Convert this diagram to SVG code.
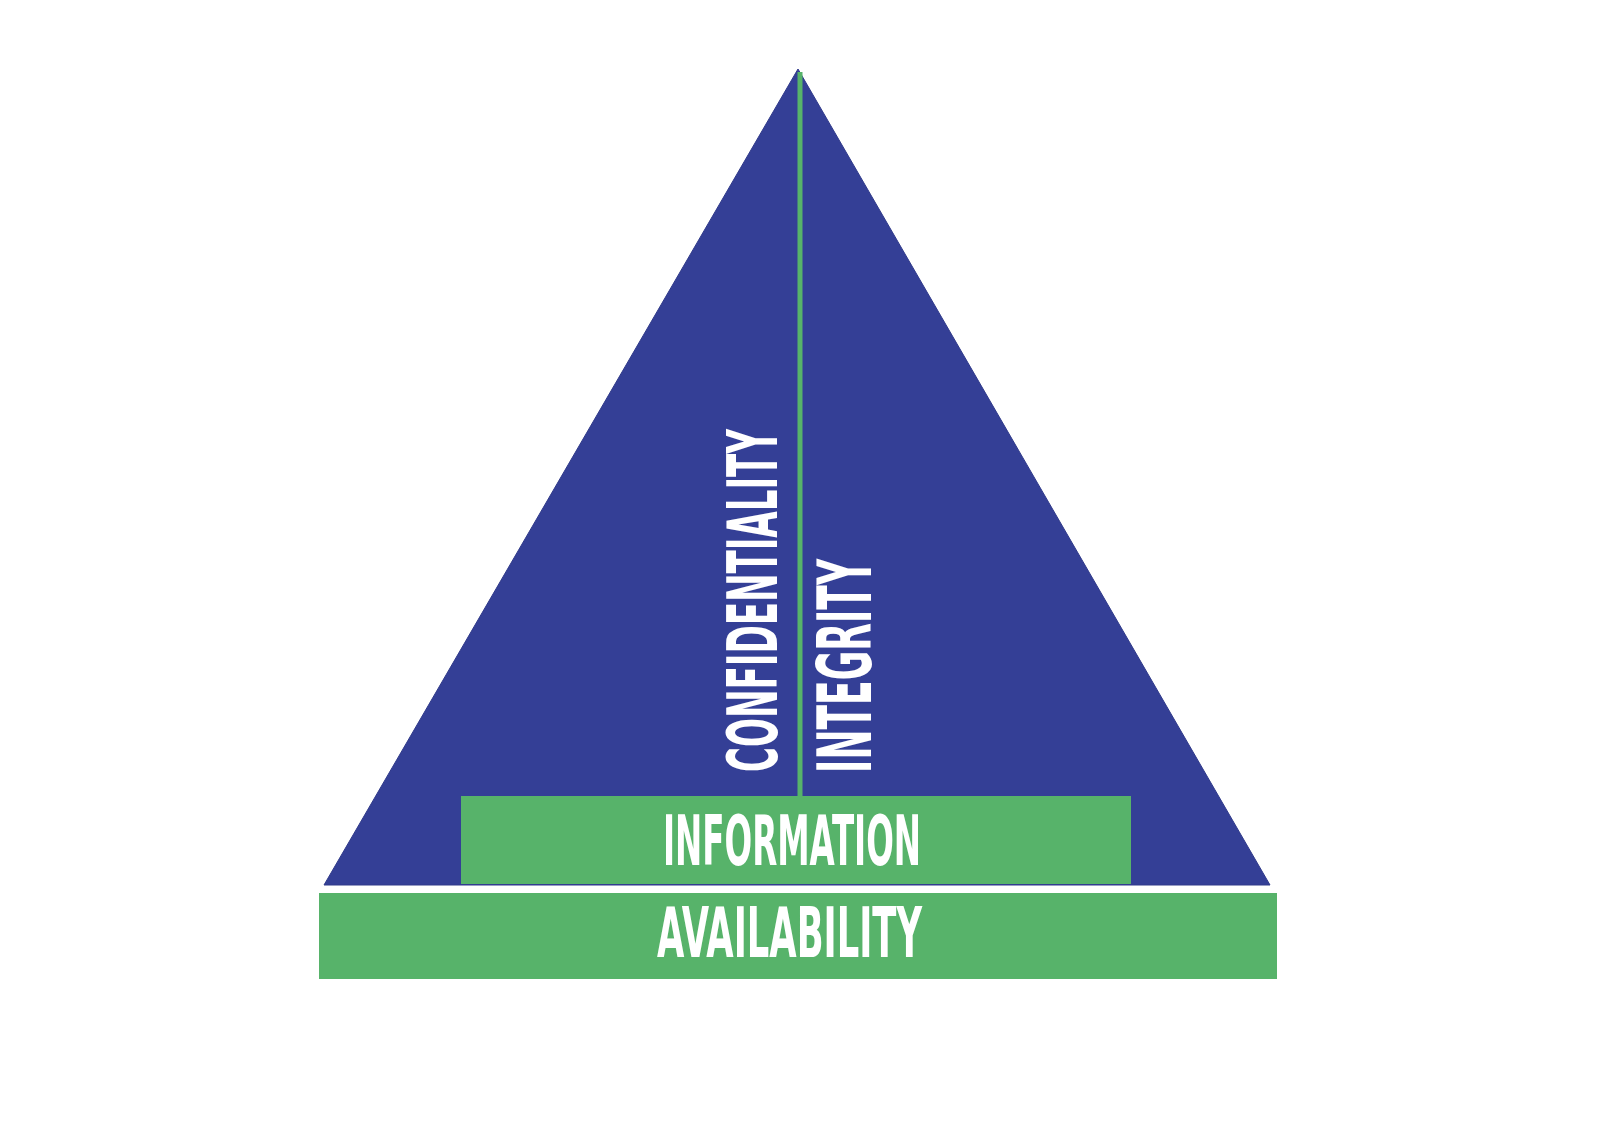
<svg xmlns="http://www.w3.org/2000/svg" width="1600" height="1123" viewBox="0 0 1600 1123">
<style>
.lbl{font-family:"DejaVu Sans Condensed","Liberation Sans",sans-serif;font-weight:bold;fill:#ffffff;font-size:70px}
.green{fill:#57b36a}
</style>
<rect width="1600" height="1123" fill="#ffffff"/>
<g id="triangle">
<polygon points="798,69 324,885 1270,885" fill="#343f96" stroke="#303a8a" stroke-width="1" stroke-linejoin="round"/>
</g>
<g id="connectors">
<line x1="800" y1="72" x2="800" y2="797" stroke="#57b36a" stroke-width="5"/>
</g>
<g id="confidentiality">
<text class="lbl" transform="translate(777,772) rotate(-90)" textLength="343" lengthAdjust="spacingAndGlyphs">CONFIDENTIALITY</text>
</g>
<g id="integrity">
<text class="lbl" transform="translate(871,773) rotate(-90)" textLength="214" lengthAdjust="spacingAndGlyphs" style="font-size:75px">INTEGRITY</text>
</g>
<g id="information">
<rect class="green" x="461" y="796" width="670" height="88"/>
<text class="lbl" x="663" y="865" textLength="258" lengthAdjust="spacingAndGlyphs">INFORMATION</text>
</g>
<g id="availability">
<rect class="green" x="319" y="893" width="958" height="86"/>
<text class="lbl" x="657" y="957" textLength="265" lengthAdjust="spacingAndGlyphs">AVAILABILITY</text>
</g>
</svg>
